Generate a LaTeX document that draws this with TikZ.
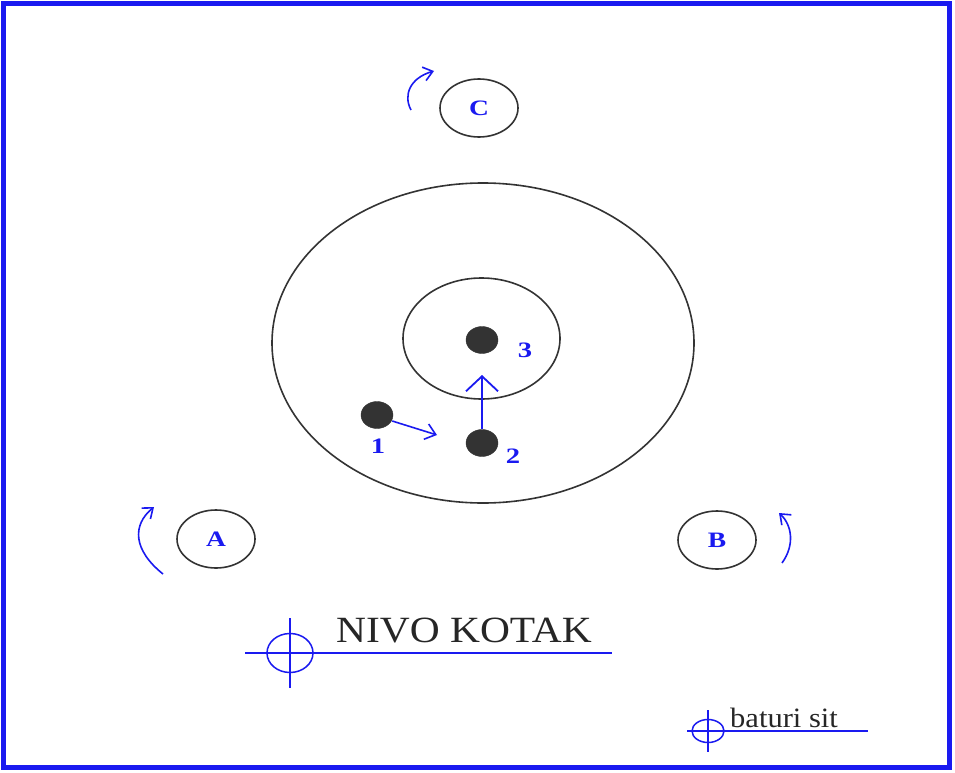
\documentclass[tikz,border=0pt]{standalone}
\usepackage{fontspec}
\setmainfont{Liberation Serif}
\usetikzlibrary{arrows.meta,shapes.geometric}
\definecolor{bl}{HTML}{1A1AF0}
\definecolor{gr}{HTML}{333333}
\tikzset{
  ring/.style={draw=gr,line width=1.6pt,ellipse,inner sep=0pt},
  dot/.style={fill=gr,draw=gr,ellipse,minimum width=32pt,minimum height=27pt,inner sep=0pt},
  lbl/.style={text=bl,font=\fontsize{22}{22}\selectfont\bfseries,xscale=1.3},
  letterlbl/.style={text=bl,font=\fontsize{22}{22}\selectfont\bfseries,xscale=1.25},
  rot/.style={draw=bl,line width=1.6pt,-{Straight Barb[length=9pt,width=14pt]}},
  mv/.style={draw=bl,line width=1.8pt,-{Straight Barb[length=15pt,width=32pt]}},
  ref/.style={draw=bl,line width=1.5pt}
}
\begin{document}
\begin{tikzpicture}[x=1pt,y=-1pt]
\useasboundingbox (0,0) rectangle (955,773);
\fill[white] (0,0) rectangle (955,773);
\draw[bl,line width=5pt] (3.5,3.5) rectangle (949,767.5);
% big rings
\node[ring,minimum width=422pt,minimum height=320pt] (big) at (483,343) {};
\node[ring,minimum width=157pt,minimum height=121pt] (inner) at (481.5,338.5) {};
% dots
\node[dot] (d3) at (482,340) {};
\node[dot] (d1) at (377,415) {};
\node[dot] (d2) at (482,443) {};
\node[lbl] (l3) at (525,350) {3};
\node[lbl] (l1) at (378,446) {1};
\node[lbl] (l2) at (513,456) {2};
\coordinate (t3) at (482,375);
\coordinate (t1) at (437,435);
\draw[mv] (d2.north) -- (t3);
\draw[rot,-{Straight Barb[length=10pt,width=16pt]}] (d1.east) ++(-1,6) -- (t1);
% small circles
\node[ring,minimum width=78pt,minimum height=58pt] (C) at (479,108) {};
\node[ring,minimum width=78pt,minimum height=58pt] (A) at (216,539) {};
\node[ring,minimum width=78pt,minimum height=58pt] (B) at (717,540) {};
\node[letterlbl] at (C) {C};
\node[letterlbl] at (A) {A};
\node[letterlbl] at (B) {B};
% rotation arrows
\coordinate (c0) at (411,110); \coordinate (c1) at (434,71);
\draw[rot] (c0) .. controls (403,95) and (410,78) .. (c1);
\coordinate (a0) at (163,574); \coordinate (a1) at (154,507);
\draw[rot] (a0) .. controls (133,550) and (132,525) .. (a1);
\coordinate (b0) at (782,563); \coordinate (b1) at (779,513);
\draw[rot] (b0) .. controls (795,545) and (792,525) .. (b1);
% NIVO KOTAK reference mark
\coordinate (n0) at (245,653); \coordinate (n1) at (612,653);
\coordinate (n2) at (290,618); \coordinate (n3) at (290,688);
\draw[ref] (n0) -- (n1);
\draw[ref] (n2) -- (n3);
\node[ref,ellipse,minimum width=46pt,minimum height=39pt,inner sep=0pt] (nc) at (290,653) {};
\node[anchor=base west,inner sep=0pt,text=black!85,font=\fontsize{37}{37}\selectfont,xscale=1.12] (nk) at (336,642) {NIVO KOTAK};
% baturi sit
\coordinate (m0) at (687,731); \coordinate (m1) at (868,731);
\coordinate (m2) at (708,710); \coordinate (m3) at (708,752);
\draw[ref] (m0) -- (m1);
\draw[ref] (m2) -- (m3);
\node[ref,ellipse,minimum width=32pt,minimum height=23pt,inner sep=0pt] (mc) at (708,731) {};
\node[anchor=base west,inner sep=0pt,text=black!85,font=\fontsize{28}{28}\selectfont,xscale=1.09] (bs) at (730,727) {baturi sit};
\end{tikzpicture}
\end{document}
